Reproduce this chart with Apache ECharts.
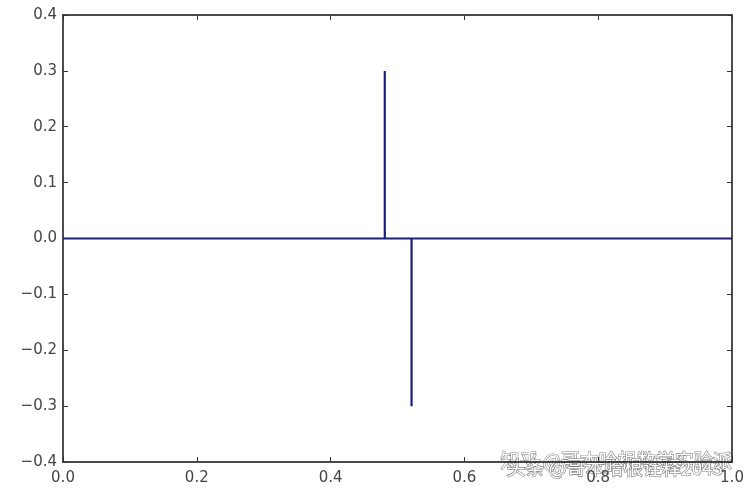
<!DOCTYPE html>
<html><head><meta charset="utf-8">
<script src="https://cdn.jsdelivr.net/npm/echarts@6/dist/echarts.min.js"></script>
<style>html,body{margin:0;padding:0;background:#fff}#c{width:750px;height:498px}</style>
</head><body><div id="c"></div>
<script>
const xs = [0.0, 0.481, 0.481, 0.481, 0.521, 0.521, 0.521, 1.0];
const ys = [0.0, 0.0, 0.3, 0.0, 0.0, -0.3, 0.0, 0.0];
const xTicks = [0.0, 0.2, 0.4, 0.6, 0.8, 1.0];
const yTicks = [-0.4, -0.3, -0.2, -0.1, 0.0, 0.1, 0.2, 0.3, 0.4];
const watermark1 = '知乎 @哥本哈根数学实验派';
const watermark2 = '头条 @哥本哈根诠释2043';

const fmt = v => v.toFixed(1).replace('-', '\u2212');
const chart = echarts.init(document.getElementById('c'));
const lbl = {fontFamily: 'DejaVu Sans', fontSize: 15, color: '#444'};
const line = {show: true, onZero: false, lineStyle: {color: '#111', width: 1.5}};
const tick = {show: true, inside: true, length: 5, lineStyle: {color: '#333'}};
chart.setOption({
  animation: false,
  backgroundColor: '#fff',
  grid: {left: 63, right: 18, top: 15, bottom: 36},
  xAxis: [{
    type: 'value', min: 0, max: 1, interval: 0.2, position: 'bottom',
    axisLine: line, axisTick: tick,
    axisLabel: Object.assign({margin: 9, formatter: fmt}, lbl),
    splitLine: {show: false}
  }, {
    type: 'value', min: 0, max: 1, interval: 0.2, position: 'top',
    axisLine: line, axisTick: tick,
    axisLabel: {show: false}, splitLine: {show: false}
  }],
  yAxis: [{
    type: 'value', min: -0.4, max: 0.4, interval: 0.1, position: 'left',
    axisLine: line, axisTick: tick,
    axisLabel: Object.assign({margin: 6, formatter: fmt}, lbl),
    splitLine: {show: false}
  }, {
    type: 'value', min: -0.4, max: 0.4, interval: 0.1, position: 'right',
    axisLine: line, axisTick: tick,
    axisLabel: {show: false}, splitLine: {show: false}
  }],
  series: [{
    type: 'line', xAxisIndex: 0, yAxisIndex: 0,
    data: xs.map((x, i) => [x, ys[i]]),
    showSymbol: false, symbol: 'none',
    lineStyle: {color: '#1c1f7e', width: 2.2}
  }],
  graphic: [
    {type: 'text', left: 500, top: 451, style: {text: watermark1, fontFamily: 'Noto Sans CJK SC', fontSize: 19, fill: '#fff', stroke: '#888', lineWidth: 1.2}},
    {type: 'text', left: 506, top: 458, style: {text: watermark2, fontFamily: 'Noto Sans CJK SC', fontSize: 19, fill: '#fff', stroke: '#777', lineWidth: 1.2}}
  ]
});
</script></body></html>
